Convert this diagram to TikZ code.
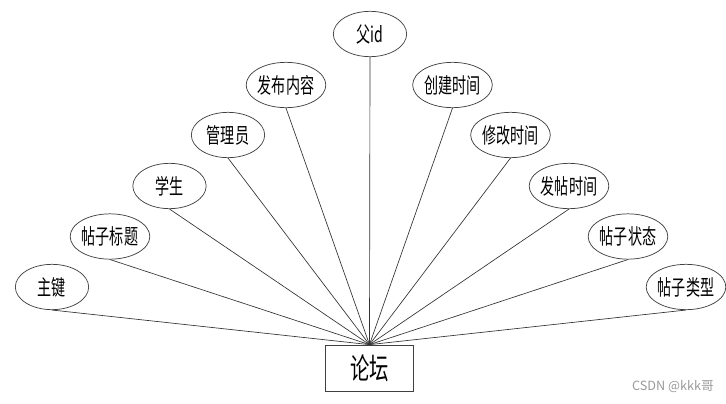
\documentclass[tikz,border=0pt]{standalone}
\usepackage{fontspec}
\usepackage{tikz}
\usetikzlibrary{shapes.geometric}
\newfontfamily\cjk[FakeStretch=0.66]{Noto Sans CJK SC}
\newfontfamily\cjkwm{Noto Sans CJK SC}

\begin{document}
\begin{tikzpicture}[x=0.75pt,y=-0.75pt,
  attr/.style={ellipse,draw=black!75,line width=0.55pt,minimum width=55pt,minimum height=34pt,inner sep=0pt,font=\cjk\fontsize{16pt}{16pt}\selectfont},
  ent/.style={rectangle,draw=black!75,line width=0.55pt,minimum width=66.5pt,minimum height=34.5pt,inner sep=0pt,font=\cjk\fontsize{22pt}{22pt}\selectfont},
  link/.style={draw=black!80,line width=0.5pt}]
\useasboundingbox (0,0) rectangle (726,404);
\node[ent] (lt) at (369.5,368) {论坛};
% attributes, left to right
\node[attr] (zj) at (52,287) {主键};
\node[attr] (btbt) at (110,236.5) {帖子标题};
\node[attr] (xs) at (169.5,186) {学生};
\node[attr] (gly) at (228,135) {管理员};
\node[attr] (fbnr) at (286,85) {发布内容};
\node[attr] (fid) at (370,34) {父id};
\node[attr] (cjsj) at (452.5,85) {创建时间};
\node[attr] (xgsj) at (510.5,135) {修改时间};
\node[attr] (ftsj) at (569,186) {发帖时间};
\node[attr] (tzzt) at (628,236.5) {帖子状态};
\node[attr] (tzlx) at (686,287) {帖子类型};
\foreach \a in {zj,btbt,xs,gly,fbnr,fid,cjsj,xgsj,ftsj,tzzt,tzlx}
  \draw[link] (\a.south) -- (lt.north);
\node[text=black!40,font=\cjkwm\fontsize{9.5pt}{9.5pt}\selectfont] (wm) at (673,387) {CSDN @kkk哥};
\end{tikzpicture}
\end{document}
